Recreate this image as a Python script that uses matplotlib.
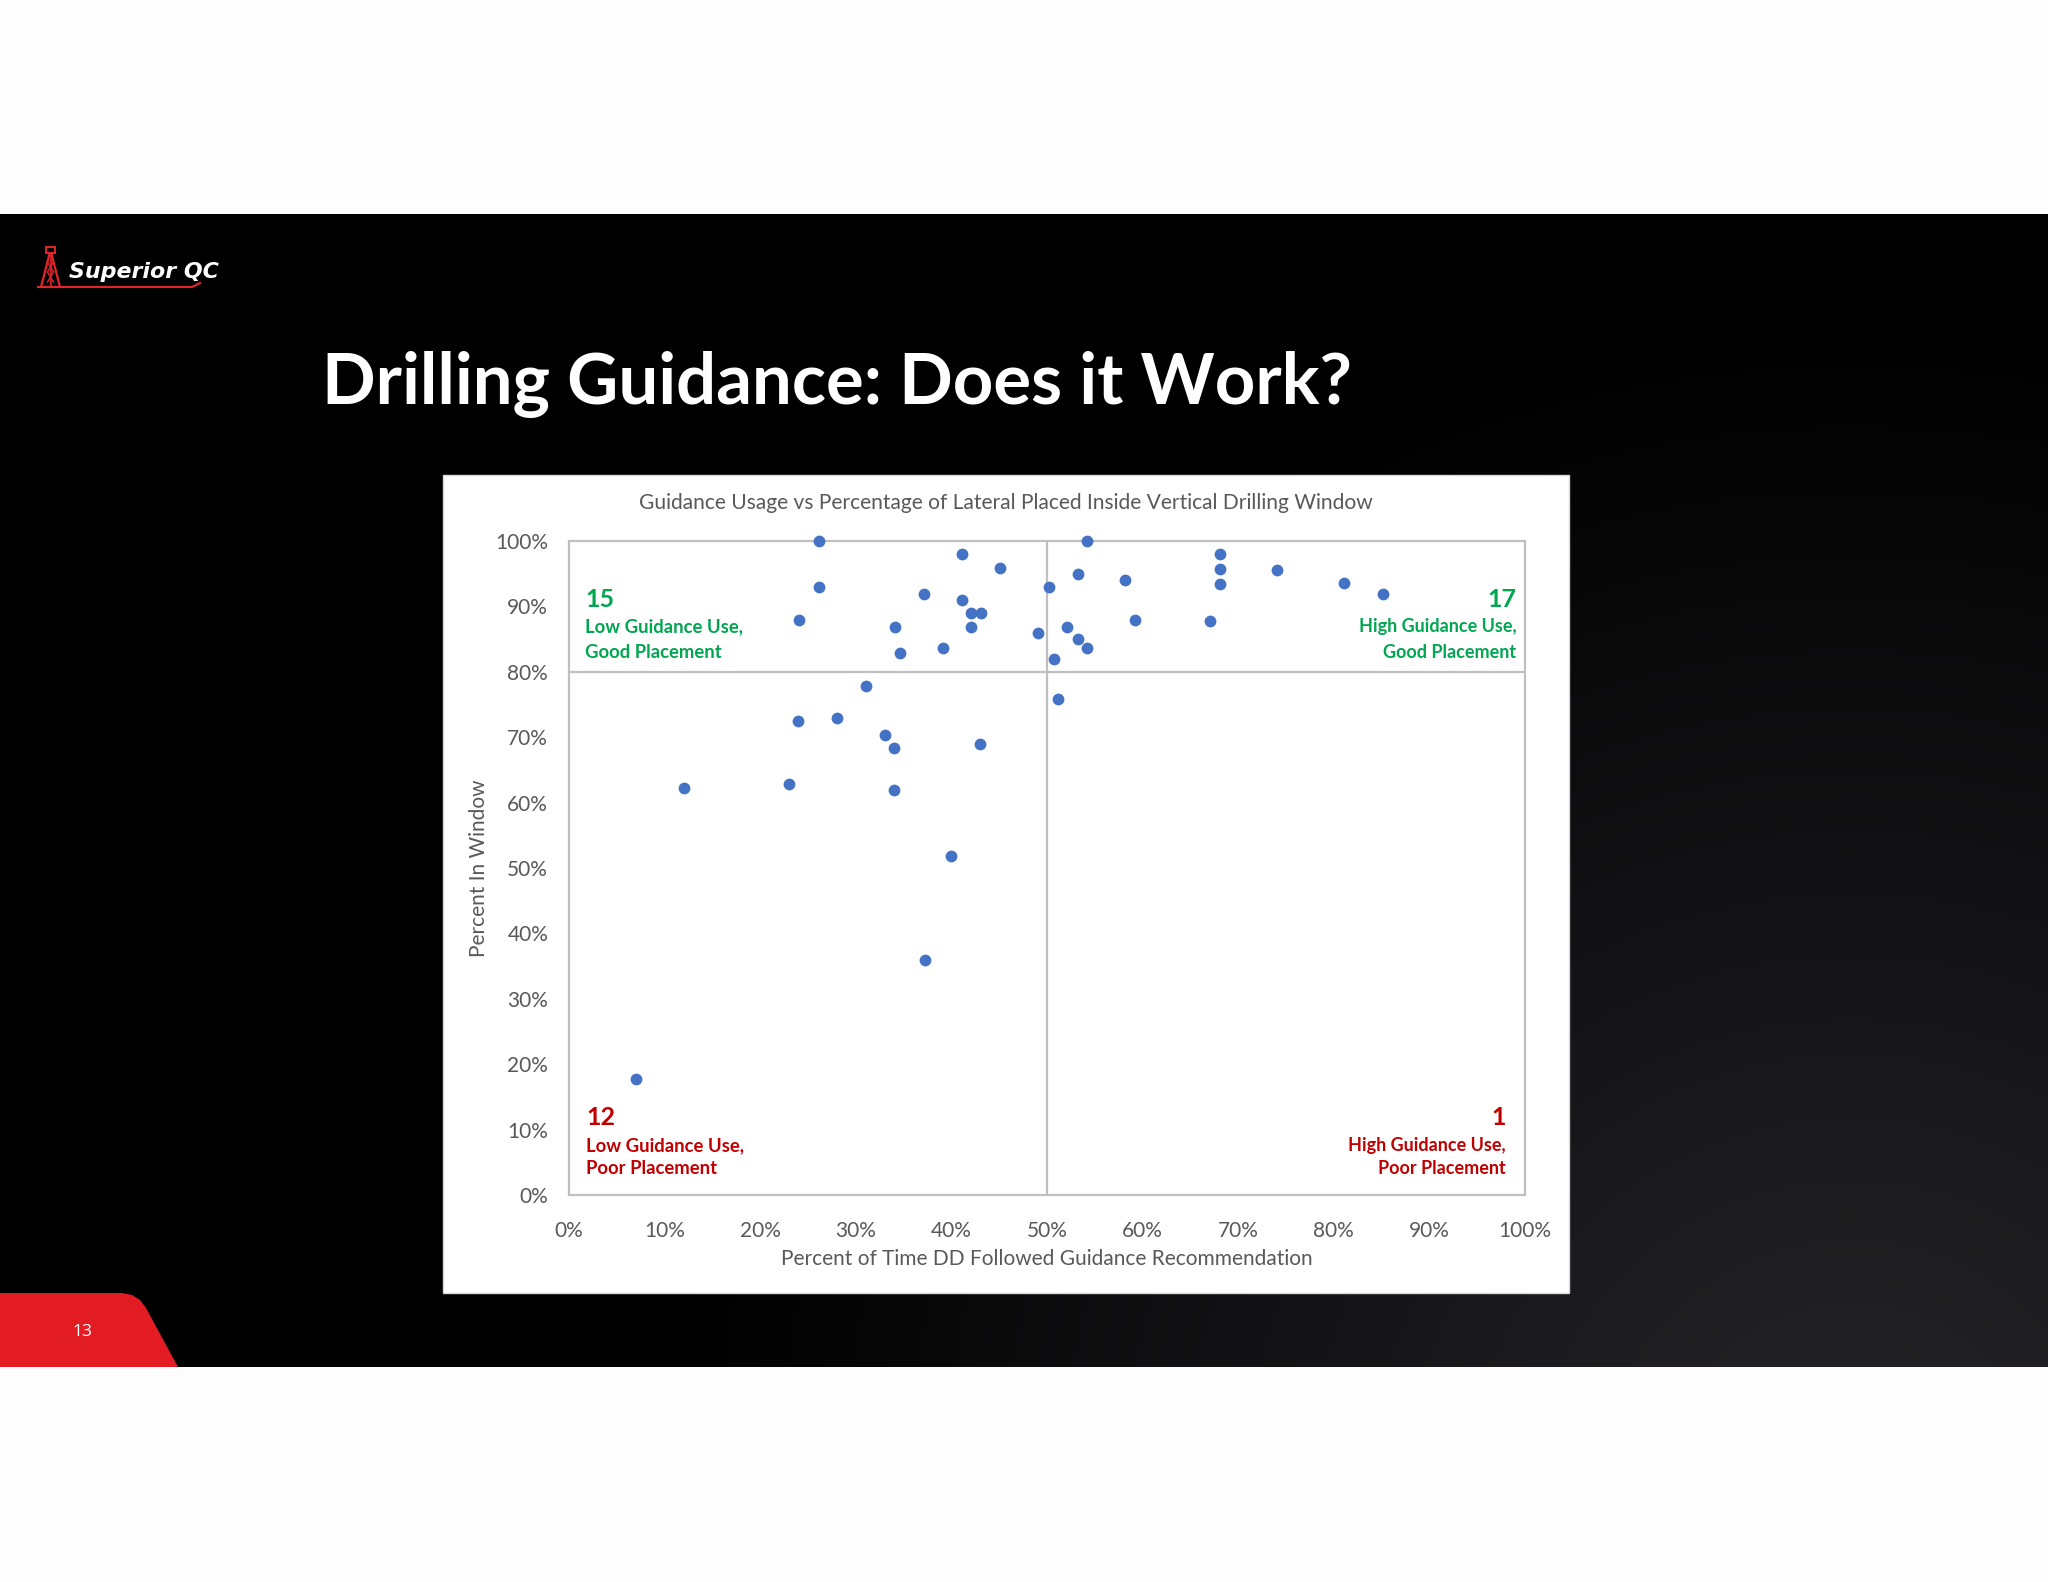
import numpy as np
import matplotlib
matplotlib.use('Agg')
import matplotlib.pyplot as plt
from matplotlib.ticker import PercentFormatter, MultipleLocator
from matplotlib.patches import Rectangle, Polygon

# Data (percent)
guidance_pct = [26.1, 54.2, 41.1, 68.1, 45.1, 68.1, 74.1, 53.2, 58.2, 81.1,
                68.1, 26.1, 50.2, 85.1, 37.1, 41.1, 42.1, 43.1, 24.1, 59.2,
                67.1, 34.1, 42.1, 52.1, 49.1, 53.2, 39.1, 54.2, 34.6, 50.7,
                31.1, 51.2, 28.0, 24.0, 33.1, 34.0, 43.0, 23.0, 12.0, 34.0,
                40.0, 37.2, 7.0]
window_pct = [100.0, 100.0, 98.0, 98.0, 95.9, 95.7, 95.5, 95.0, 94.0, 93.6,
              93.4, 93.0, 93.0, 91.9, 91.9, 91.0, 89.0, 89.0, 87.9, 87.9,
              87.7, 86.8, 86.9, 86.8, 86.0, 85.0, 83.6, 83.7, 82.9, 82.0,
              77.9, 75.8, 72.9, 72.5, 70.3, 68.3, 68.9, 62.9, 62.3, 61.9,
              51.9, 35.9, 17.8]

quadrant_counts = ['15', '17', '12', '1']
quadrant_labels = ['Low Guidance Use,\nGood Placement',
                   'High Guidance Use,\nGood Placement',
                   'Low Guidance Use,\nPoor Placement',
                   'High Guidance Use,\nPoor Placement']
x_split = 50
y_split = 80

W, H = 2048, 1582
fig = plt.figure(figsize=(W / 100, H / 100), dpi=100)
fig.patch.set_facecolor('#fdfdfd')
renderer = fig.canvas.get_renderer()


def fit(t, width_px):
    w = t.get_window_extent(renderer).width
    t.set_fontsize(t.get_fontsize() * width_px / w)


# background layer in pixel coordinates
bg = fig.add_axes([0, 0, 1, 1])
bg.set_xlim(0, W)
bg.set_ylim(H, 0)
bg.axis('off')

# black band with a soft dark-grey glow toward the lower right
yy, xx = np.mgrid[214:1367:4, 0:W:4]
d = np.hypot(xx - 1850, yy - 1500)
glow = np.clip(1 - d / 1200, 0, 1) * 0.15
img = np.dstack([glow, glow * 0.97, glow * 1.08]).clip(0, 1)
bg.imshow(img, extent=(0, W, 1367, 214), aspect='auto', zorder=0)

# logo: derrick
red = '#e3242b'
bg.plot([41, 49.5], [287, 254], color=red, lw=1.6)
bg.plot([60, 51.5], [287, 254], color=red, lw=1.6)
bg.plot([50.5, 50.5], [254, 287], color=red, lw=1.2)
for ya, yb in [(262, 272), (272, 282)]:
    bg.plot([47.5, 53.5], [ya, yb], color=red, lw=1.0)
    bg.plot([53.5, 47.5], [ya, yb], color=red, lw=1.0)
bg.add_patch(Rectangle((46, 247), 9, 6, fill=False, ec=red, lw=1.4))
bg.plot([38, 192, 200], [287, 287, 283], color=red, lw=1.5)
logo = bg.text(69, 272, 'Superior QC', color='white', fontsize=20,
               fontweight='bold', style='italic', family='DejaVu Sans',
               ha='left', va='center')
fit(logo, 150)

# page number tab
tab_x = [0, 122, 132, 140, 146, 178, 0]
tab_y = [1293, 1293, 1295, 1300, 1308, 1367, 1367]
bg.add_patch(Polygon(np.column_stack([tab_x, tab_y]), closed=True,
                     fc='#e31b23', ec='none'))
bg.text(82, 1332, '13', color='white', fontsize=12.5, family='Open Sans',
        ha='center', va='center')

# slide title
title = bg.text(322, 404, 'Drilling Guidance: Does it Work?', color='white',
                fontsize=56, fontweight='bold', family='Lato',
                ha='left', va='baseline')
fit(title, 1030)

# chart white box
bg.add_patch(Rectangle((443, 475), 1126, 818, fc='white', ec='#d9d9d9', lw=1))

ctitle = bg.text(1006, 503, 'Guidance Usage vs Percentage of Lateral Placed Inside Vertical Drilling Window',
                 color='#595959', fontsize=15, family='Lato', ha='center', va='center')
fit(ctitle, 738)

# scatter axes
ax = fig.add_axes([569 / W, 1 - 1195 / H, 956 / W, 654 / H])
ax.scatter(guidance_pct, window_pct, s=72, color='#4472c4', zorder=3,
           clip_on=False, linewidths=0)
ax.set_xlim(0, 100)
ax.set_ylim(0, 100)
ax.axvline(x_split, color='#bfbfbf', lw=1.6, zorder=1)
ax.axhline(y_split, color='#bfbfbf', lw=1.6, zorder=1)
for sp in ax.spines.values():
    sp.set_color('#bfbfbf')
    sp.set_linewidth(1.6)
ax.xaxis.set_major_locator(MultipleLocator(10))
ax.yaxis.set_major_locator(MultipleLocator(10))
ax.xaxis.set_major_formatter(PercentFormatter(100, decimals=0))
ax.yaxis.set_major_formatter(PercentFormatter(100, decimals=0))
ax.tick_params(axis='x', length=0, labelsize=15, labelcolor='#595959', pad=19)
ax.tick_params(axis='y', length=0, labelsize=15, labelcolor='#595959', pad=15)
for lab in ax.get_xticklabels() + ax.get_yticklabels():
    lab.set_family('Lato')

xl = ax.set_xlabel('Percent of Time DD Followed Guidance Recommendation',
                   color='#595959', family='Lato', fontsize=15)
xl.set_va('center')
ax.xaxis.set_label_coords(0.5, (1195 - 1259) / 654)
fit(xl, 534)
yl = ax.set_ylabel('Percent In Window', color='#595959', family='Lato', fontsize=15)
yl.set_va('center')
ax.yaxis.set_label_coords((479 - 569) / 956, 0.5)
# rotated label: fit its height
h = yl.get_window_extent(renderer).height
yl.set_fontsize(yl.get_fontsize() * 178 / h)

green = '#00a650'
dark_red = '#c00000'
quad_pos = [(1.7, 'left', green, 91.1, 86.9, 83.0),
            (99.1, 'right', green, 91.1, 86.9, 83.0),
            (1.8, 'left', dark_red, 11.8, 7.6, 4.0),
            (98.0, 'right', dark_red, 11.8, 7.6, 4.0)]
for cnt, lbl, (qx, ha, col, y0, y1, y2) in zip(quadrant_counts, quadrant_labels, quad_pos):
    ax.text(qx, y0, cnt, color=col, fontsize=18, fontweight='bold',
            family='Lato', ha=ha, va='center')
    l1, l2 = lbl.split('\n')
    t1 = ax.text(qx, y1, l1, color=col, fontsize=13, fontweight='bold',
                 family='Lato', ha=ha, va='center')
    fit(t1, 157)
    ax.text(qx, y2, l2, color=col, fontsize=t1.get_fontsize(), fontweight='bold',
            family='Lato', ha=ha, va='center')

fig.savefig('out.png', dpi=100, facecolor=fig.get_facecolor())
